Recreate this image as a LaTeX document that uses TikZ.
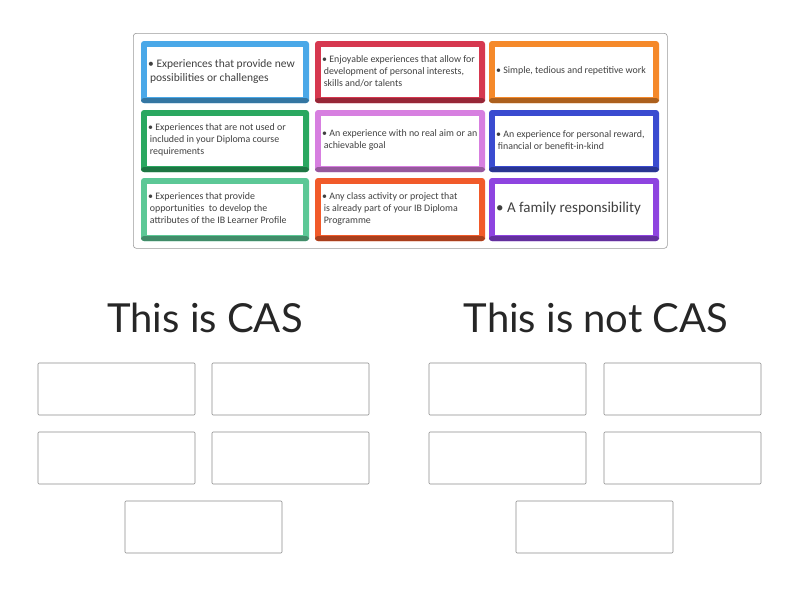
\documentclass[tikz,border=0pt]{standalone}
\usepackage{fontspec}
\setmainfont{Carlito}
\newfontfamily\headfont{Lato}
\begin{document}
\begin{tikzpicture}[x=1pt,y=-1pt,
  card/.style={rounded corners=3pt},
  inner/.style={fill=white},
  txt/.style={anchor=west,align=left,inner sep=0pt,font=\fontsize{9.9}{12}\selectfont,text=black!75},
  drop/.style={draw=black!45,line width=0.6pt,rounded corners=1pt},
  head/.style={font=\headfont\fontsize{40}{44}\selectfont,text=black!85}]
\useasboundingbox (0,0) rectangle (800,600);
\definecolor{c1}{HTML}{4AA8E8}\definecolor{c2}{HTML}{D6384F}\definecolor{c3}{HTML}{F5892A}
\definecolor{c4}{HTML}{2AA860}\definecolor{c5}{HTML}{D77FE0}\definecolor{c6}{HTML}{3A4BD0}
\definecolor{c7}{HTML}{5CC896}\definecolor{c8}{HTML}{F15A2A}\definecolor{c9}{HTML}{8E44E0}
\node[draw=black!40,line width=0.6pt,rounded corners=3pt,minimum width=534,minimum height=215,anchor=north west] (frame) at (133,33) {};
\foreach \n/\x/\xx/\y/\yy in {1/141/309/41/103,2/315/485/41/103,3/489/659/41/103,4/141/309/110/172,5/315/485/110/172,6/489/659/110/172,7/141/309/178/241,8/315/485/178/241,9/489/659/178/241}{
  \fill[c\n,card] (\x,\y) rectangle (\xx,\yy);
  \fill[c\n!70!black,card] (\x,\yy-5) rectangle (\xx,\yy);
  \fill[c\n] (\x,\yy-8) rectangle (\xx,\yy-5);
  \fill[inner] (\x+6,\y+6) rectangle (\xx-6,\yy-6);
  \coordinate (t\n) at (\x+7,{(\y+\yy)/2-1});
}
\node[txt,font=\fontsize{11.5}{14}\selectfont] (a1) at (t1) {• Experiences that provide new\\ \,possibilities or challenges};
\node[txt] (a2) at (t2) {• Enjoyable experiences that allow for\\ \,development of personal interests,\\ \,skills and/or talents};
\node[txt] (a3) at (t3) {• Simple, tedious and repetitive work};
\node[txt] (a4) at (t4) {• Experiences that are not used or\\ \,included in your Diploma course\\ \,requirements};
\node[txt] (a5) at (t5) {• An experience with no real aim or an\\ \,achievable goal};
\node[txt] (a6) at (t6) {• An experience for personal reward,\\ \,financial or benefit-in-kind};
\node[txt] (a7) at (t7) {• Experiences that provide\\ \,opportunities\ \ to develop the\\ \,attributes of the IB Learner Profile};
\node[txt] (a8) at (t8) {• Any class activity or project that\\ \,is already part of your IB Diploma\\ \,Programme};
\node[txt,font=\fontsize{15}{17}\selectfont] (a9) at (t9) {• A family responsibility};
\node[head] (h1) at (205,318) {This is CAS};
\node[head] (h2) at (596,318) {This is not CAS};
\foreach \n/\x/\y in {b1/38/363,b2/212/363,b3/38/432,b4/212/432,b5/125/501,b6/429/363,b7/604/363,b8/429/432,b9/604/432,b10/516/501}{
  \draw[drop] (\x,\y) rectangle (\x+157,\y+52);
  \coordinate (\n) at (\x,\y);
}
\end{tikzpicture}
\end{document}
